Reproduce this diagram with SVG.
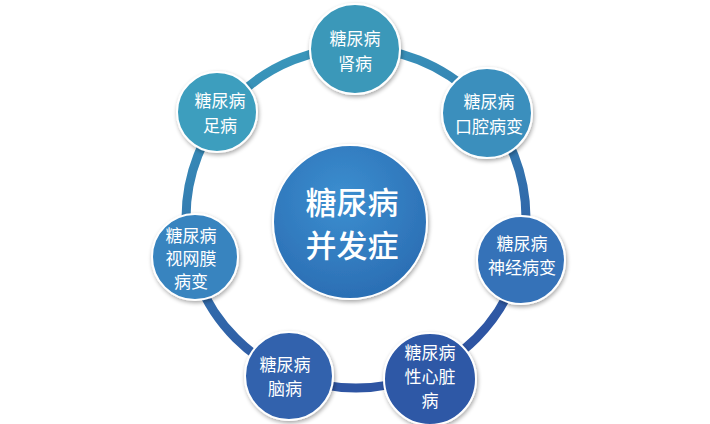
<svg xmlns="http://www.w3.org/2000/svg" width="710" height="424" viewBox="0 0 710 424">
<defs>
<linearGradient id="ringg" x1="0" y1="0" x2="0.3" y2="1">
<stop offset="0" stop-color="#3a9dbd"/>
<stop offset="1" stop-color="#2e55a3"/>
</linearGradient>
<radialGradient id="cg" cx="0.45" cy="0.35" r="0.7">
<stop offset="0" stop-color="#3c8fd0"/>
<stop offset="1" stop-color="#2a6cb2"/>
</radialGradient>
<filter id="sh" x="-20%" y="-20%" width="140%" height="140%">
<feGaussianBlur in="SourceAlpha" stdDeviation="2"/>
<feOffset dx="1" dy="2"/>
<feComponentTransfer><feFuncA type="linear" slope="0.35"/></feComponentTransfer>
<feMerge><feMergeNode/><feMergeNode in="SourceGraphic"/></feMerge>
</filter>
</defs>
<style>
.n{stroke:#ffffff;stroke-width:2;filter:url(#sh)}
.t{fill:#ffffff;font-family:"Noto Sans CJK SC","Noto Sans CJK JP",sans-serif;font-size:17px;text-anchor:middle;dominant-baseline:central}
.c{font-size:31px;font-weight:500}
</style>
<rect width="710" height="424" fill="#ffffff"/>
<g id="connectors">
<circle cx="356" cy="218" r="170" fill="none" stroke="url(#ringg)" stroke-width="9"/>
</g>
<g id="center">
<circle cx="350" cy="222" r="77" fill="url(#cg)" class="n"/>
<text class="t c" x="352" y="200">糖尿病</text>
<text class="t c" x="352" y="243">并发症</text>
</g>
<g id="n1">
<circle cx="355" cy="49" r="45" fill="#3a98b9" class="n"/>
<text class="t" x="355" y="37">糖尿病</text>
<text class="t" x="355" y="62">肾病</text>
</g>
<g id="n2">
<circle cx="487" cy="113" r="45" fill="#3a8fbd" class="n"/>
<text class="t" x="489" y="100">糖尿病</text>
<text class="t" x="489" y="125">口腔病变</text>
</g>
<g id="n3">
<circle cx="521" cy="260" r="44" fill="#3572b8" class="n"/>
<text class="t" x="522" y="242">糖尿病</text>
<text class="t" x="522" y="266">神经病变</text>
</g>
<g id="n4">
<circle cx="430" cy="379" r="46" fill="#2e58a6" class="n"/>
<text class="t" x="430" y="351">糖尿病</text>
<text class="t" x="430" y="375">性心脏</text>
<text class="t" x="430" y="399">病</text>
</g>
<g id="n5">
<circle cx="289" cy="376" r="44" fill="#3062ad" class="n"/>
<text class="t" x="285" y="363">糖尿病</text>
<text class="t" x="285" y="387">脑病</text>
</g>
<g id="n6">
<circle cx="195" cy="257" r="43" fill="#3784bf" class="n"/>
<text class="t" x="191" y="234">糖尿病</text>
<text class="t" x="191" y="257">视网膜</text>
<text class="t" x="191" y="280">病变</text>
</g>
<g id="n7">
<circle cx="217" cy="112" r="40" fill="#3c9ebe" class="n"/>
<text class="t" x="220" y="99">糖尿病</text>
<text class="t" x="220" y="124">足病</text>
</g>
</svg>
